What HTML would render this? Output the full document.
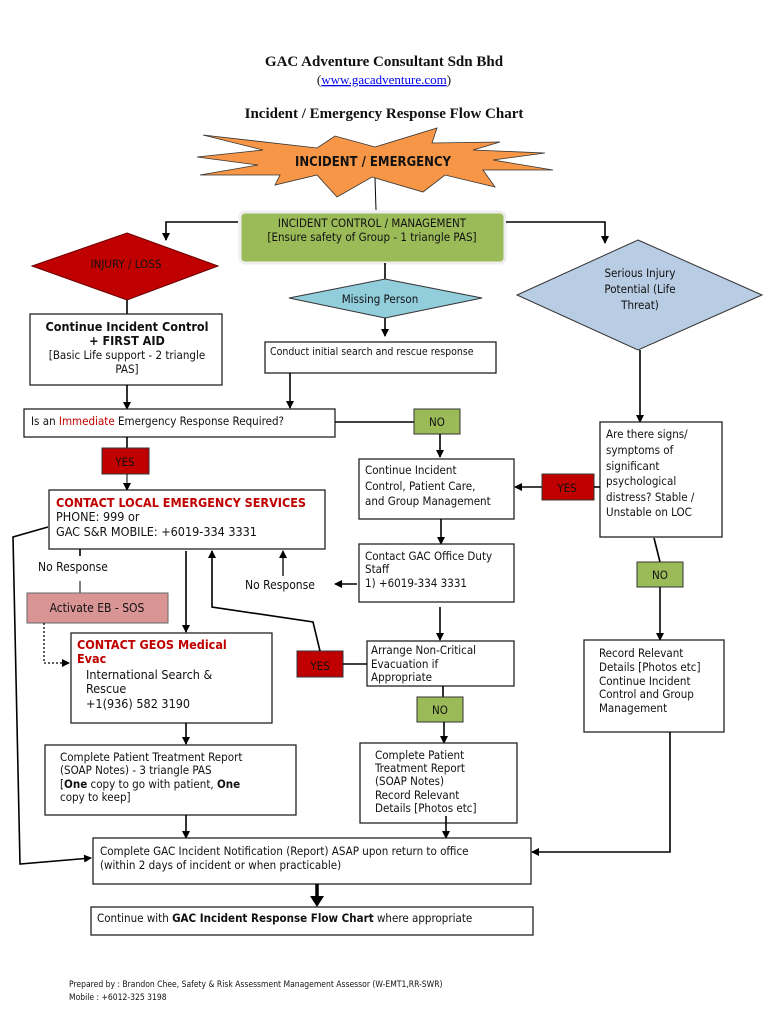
<!DOCTYPE html>
<html><head><meta charset="utf-8"><style>
html,body{margin:0;padding:0;background:#fff}
svg{display:block}
text{font-family:"DejaVu Sans Condensed","Liberation Sans",sans-serif;font-size:11.5px;fill:#111}
.t{font-family:"Liberation Serif",serif;font-weight:bold;font-size:15px}
.b{font-weight:bold}
.r{fill:#c00000}
.box{fill:#fff;stroke:#222;stroke-width:1.3}
.ln{stroke:#000;stroke-width:1.6;fill:none}
</style></head><body>
<svg width="768" height="1024" viewBox="0 0 768 1024" xmlns="http://www.w3.org/2000/svg">
<defs><marker id="a" markerWidth="8" markerHeight="8" refX="7" refY="4" orient="auto" markerUnits="userSpaceOnUse"><path d="M0,0 L8,4 L0,8z" fill="#000"/></marker></defs>
<text class="t" x="384" y="66" text-anchor="middle">GAC Adventure Consultant Sdn Bhd</text>
<text x="384" y="84" text-anchor="middle" style="font-family:'Liberation Serif',serif;font-size:13px">(<tspan fill="#0000ee" text-decoration="underline">www.gacadventure.com</tspan>)</text>
<text class="t" x="384" y="118" text-anchor="middle">Incident / Emergency Response Flow Chart</text>
<polygon points="203,135 317,148 335,136 375,147 437,128 432,143 500,142 473,150 545,153 493,160 553,170 483,170 495,187 445,175 423,192 372,177 337,197 317,175 275,185 280,175 200,175 258,165 197,157 263,150" fill="#f79646" stroke="#333" stroke-width="0.8"/>
<text class="b" x="373" y="166" text-anchor="middle" style="font-size:13px">INCIDENT / EMERGENCY</text>
<line class="ln" x1="375" y1="178" x2="376" y2="210" style="stroke-width:1"/>
<rect x="240" y="212" width="265" height="51" rx="5" fill="#9bbb59" stroke="#eee" stroke-width="3"/>
<text x="372" y="227" text-anchor="middle">INCIDENT CONTROL / MANAGEMENT</text>
<text x="372" y="241" text-anchor="middle">[Ensure safety of Group - 1 triangle PAS]</text>
<polyline class="ln" points="238,222 166,222 166,240" marker-end="url(#a)"/>
<polyline class="ln" points="506,222 605,222 605,243" marker-end="url(#a)"/>
<polygon points="127,233 218,266 127,300 32,266" fill="#c00000" stroke="#600" stroke-width="1"/>
<text x="126" y="268" text-anchor="middle">INJURY / LOSS</text>
<line class="ln" x1="385" y1="263" x2="385" y2="279"/>
<polygon points="385,279 482,298 385,318 289,298" fill="#92cddc" stroke="#333" stroke-width="1"/>
<text x="380" y="303" text-anchor="middle">Missing Person</text>
<line class="ln" x1="385" y1="318" x2="385" y2="336" marker-end="url(#a)"/>
<polygon points="638,240 762,295 638,350 517,295" fill="#b8cce4" stroke="#333" stroke-width="1"/>
<text x="640" y="277" text-anchor="middle">Serious Injury</text>
<text x="640" y="293" text-anchor="middle">Potential (Life</text>
<text x="640" y="309" text-anchor="middle">Threat)</text>
<line class="ln" x1="127" y1="300" x2="127" y2="314"/>
<rect class="box" x="30" y="314" width="192" height="71"/>
<text x="127" y="331" text-anchor="middle" class="b" style="font-size:12.5px">Continue Incident Control</text>
<text x="127" y="345" text-anchor="middle" class="b" style="font-size:12.5px">+ FIRST AID</text>
<text x="127" y="359" text-anchor="middle">[Basic Life support - 2 triangle</text>
<text x="127" y="373" text-anchor="middle">PAS]</text>
<rect class="box" x="265" y="342" width="231" height="31"/>
<text x="270" y="355" style="font-size:10.5px">Conduct initial search and rescue response</text>
<line class="ln" x1="127" y1="385" x2="127" y2="409" marker-end="url(#a)"/>
<line class="ln" x1="290" y1="373" x2="290" y2="408" marker-end="url(#a)"/>
<rect class="box" x="24" y="409" width="311" height="28"/>
<text x="31" y="425">Is an <tspan class="r">Immediate</tspan> Emergency Response Required?</text>
<line class="ln" x1="335" y1="422" x2="414" y2="422"/>
<rect x="414" y="409" width="46" height="25" fill="#9bbb59" stroke="#333"/>
<text x="437" y="426" text-anchor="middle">NO</text>
<line class="ln" x1="440" y1="434" x2="440" y2="457" marker-end="url(#a)"/>
<line class="ln" x1="640" y1="350" x2="640" y2="422" marker-end="url(#a)"/>
<rect class="box" x="600" y="422" width="122" height="115"/>
<text x="606" y="438">Are there signs/</text>
<text x="606" y="454">symptoms of</text>
<text x="606" y="470">significant</text>
<text x="606" y="485">psychological</text>
<text x="606" y="501">distress? Stable /</text>
<text x="606" y="516">Unstable on LOC</text>
<line class="ln" x1="127" y1="437" x2="127" y2="448"/>
<rect x="102" y="448" width="47" height="26" fill="#c00000" stroke="#333"/>
<text x="125" y="466" text-anchor="middle">YES</text>
<line class="ln" x1="127" y1="474" x2="127" y2="490" marker-end="url(#a)" style="stroke-width:1"/>
<rect class="box" x="49" y="490" width="276" height="59"/>
<text x="56" y="507" class="b r" style="font-size:12.5px">CONTACT LOCAL EMERGENCY SERVICES</text>
<text x="56" y="521" style="font-size:12.5px">PHONE:  999  or</text>
<text x="56" y="536" style="font-size:12.5px">GAC S&amp;R MOBILE: +6019-334 3331</text>
<rect class="box" x="359" y="459" width="155" height="60"/>
<text x="365" y="474">Continue Incident</text>
<text x="365" y="490">Control, Patient Care,</text>
<text x="365" y="505">and Group Management</text>
<line class="ln" x1="542" y1="487" x2="515" y2="487" marker-end="url(#a)"/>
<rect x="542" y="474" width="52" height="26" fill="#c00000" stroke="#333"/>
<text x="567" y="492" text-anchor="middle">YES</text>
<line class="ln" x1="594" y1="487" x2="600" y2="487"/>
<line class="ln" x1="654" y1="538" x2="660" y2="562"/>
<rect x="637" y="562" width="46" height="25" fill="#9bbb59" stroke="#333"/>
<text x="660" y="579" text-anchor="middle">NO</text>
<line class="ln" x1="660" y1="587" x2="660" y2="640" marker-end="url(#a)"/>
<rect class="box" x="584" y="640" width="140" height="92"/>
<text x="599" y="657">Record Relevant</text>
<text x="599" y="671">Details [Photos etc]</text>
<text x="599" y="685">Continue Incident</text>
<text x="599" y="698">Control and Group</text>
<text x="599" y="712">Management</text>
<line class="ln" x1="441" y1="519" x2="441" y2="544" marker-end="url(#a)"/>
<rect class="box" x="359" y="544" width="155" height="58"/>
<text x="365" y="560">Contact GAC Office Duty</text>
<text x="365" y="573">Staff</text>
<text x="365" y="587">1) +6019-334 3331</text>
<text x="245" y="589" style="font-size:12px">No Response</text>
<line class="ln" x1="357" y1="584" x2="335" y2="584" marker-end="url(#a)"/>
<line class="ln" x1="283" y1="576" x2="283" y2="551" marker-end="url(#a)" style="stroke-width:1.3"/>
<line class="ln" x1="440" y1="607" x2="440" y2="640" marker-end="url(#a)"/>
<rect class="box" x="367" y="641" width="147" height="45"/>
<text x="371" y="654">Arrange Non-Critical</text>
<text x="371" y="668">Evacuation if</text>
<text x="371" y="681">Appropriate</text>
<rect x="297" y="651" width="46" height="26" fill="#c00000" stroke="#333"/>
<text x="320" y="670" text-anchor="middle">YES</text>
<line class="ln" x1="343" y1="664" x2="367" y2="664"/>
<polyline class="ln" points="320,651 313,622 212,607 212,551" marker-end="url(#a)"/>
<line class="ln" x1="443" y1="686" x2="443" y2="697"/>
<rect x="417" y="697" width="46" height="25" fill="#9bbb59" stroke="#333"/>
<text x="440" y="714" text-anchor="middle">NO</text>
<line class="ln" x1="444" y1="722" x2="444" y2="743" marker-end="url(#a)"/>
<rect class="box" x="360" y="743" width="157" height="80"/>
<text x="375" y="759">Complete Patient</text>
<text x="375" y="772">Treatment Report</text>
<text x="375" y="785">(SOAP Notes)</text>
<text x="375" y="799">Record Relevant</text>
<text x="375" y="812">Details [Photos etc]</text>
<text x="38" y="571" style="font-size:12px">No Response</text>
<line class="ln" x1="80" y1="549" x2="80" y2="556"/>
<line class="ln" x1="80" y1="581" x2="80" y2="603" marker-end="url(#a)" style="stroke-width:1"/>
<rect x="27" y="593" width="141" height="30" fill="#d99594" stroke="#666"/>
<text x="97" y="612" text-anchor="middle" style="font-size:12px">Activate EB - SOS</text>
<polyline points="44,623 44,663 69,663" fill="none" stroke="#000" stroke-width="1.3" stroke-dasharray="2,2" marker-end="url(#a)"/>
<line class="ln" x1="186" y1="551" x2="186" y2="632" marker-end="url(#a)"/>
<rect class="box" x="71" y="633" width="201" height="90"/>
<text x="77" y="649" class="b r" style="font-size:12.5px">CONTACT GEOS Medical</text>
<text x="77" y="663" class="b r" style="font-size:12.5px">Evac</text>
<text x="86" y="679" style="font-size:12.5px">International Search &amp;</text>
<text x="86" y="693" style="font-size:12.5px">Rescue</text>
<text x="86" y="708" style="font-size:12.5px">+1(936) 582 3190</text>
<line class="ln" x1="186" y1="723" x2="186" y2="744" marker-end="url(#a)"/>
<rect class="box" x="45" y="745" width="251" height="70"/>
<text x="60" y="761">Complete Patient Treatment Report</text>
<text x="60" y="774">(SOAP Notes) - 3 triangle PAS</text>
<text x="60" y="788">[<tspan class="b">One</tspan> copy to go with patient, <tspan class="b">One</tspan></text>
<text x="60" y="801">copy to keep]</text>
<polyline class="ln" points="48,527 13,537 20,864 91,858" marker-end="url(#a)"/>
<line class="ln" x1="186" y1="815" x2="186" y2="838" marker-end="url(#a)"/>
<line class="ln" x1="446" y1="816" x2="446" y2="838" marker-end="url(#a)"/>
<polyline class="ln" points="670,732 670,852 532,852" marker-end="url(#a)"/>
<rect class="box" x="93" y="838" width="438" height="46"/>
<text x="100" y="855">Complete GAC Incident Notification (Report) ASAP upon return to office</text>
<text x="100" y="869">(within 2 days of incident or when practicable)</text>
<line x1="317" y1="884" x2="317" y2="898" stroke="#000" stroke-width="3.5"/>
<path d="M310,896 L324,896 L317,907z" fill="#000"/>
<rect class="box" x="91" y="907" width="442" height="28"/>
<text x="97" y="922">Continue with <tspan class="b">GAC Incident Response Flow Chart</tspan> where appropriate</text>
<text x="69" y="987" style="font-size:8.5px">Prepared by : Brandon Chee, Safety &amp; Risk Assessment Management Assessor (W-EMT1,RR-SWR)</text>
<text x="69" y="1000" style="font-size:8.5px">Mobile : +6012-325 3198</text>
</svg>
</body></html>
